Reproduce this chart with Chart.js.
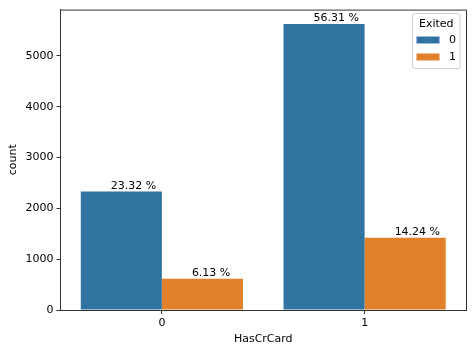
<!DOCTYPE html>
<html>
<head>
<meta charset="utf-8">
<script src="https://cdn.jsdelivr.net/npm/chart.js@4"></script>
<style>
  html, body { margin: 0; padding: 0; background: #fff; }
  #wrap { width: 474px; height: 353px; }
</style>
</head>
<body>
<div id="wrap"><canvas id="countChart" width="474" height="353"></canvas></div>
<script>
// HasCrCard categories, counts split by Exited
const categories = ['0', '1'];
const exited0 = [2332, 5631];
const exited1 = [613, 1424];
const yTicks = [0, 1000, 2000, 3000, 4000, 5000];

const total = exited0.concat(exited1).reduce((a, b) => a + b, 0);
const FONT = "'DejaVu Sans', sans-serif";
const FS = 11;

// percent labels above every bar (annotated a bit right of the bar's left edge, like the original)
const barLabels = {
    id: 'barLabels',
    afterDatasetsDraw(chart) {
        const ctx = chart.ctx;
        ctx.save();
        ctx.font = FS + 'px ' + FONT;
        ctx.fillStyle = '#000';
        ctx.textAlign = 'left';
        ctx.textBaseline = 'alphabetic';
        chart.data.datasets.forEach((ds, i) => {
            chart.getDatasetMeta(i).data.forEach((bar, j) => {
                const pct = (ds.data[j] / total * 100).toFixed(2) + ' %';
                ctx.fillText(pct, bar.x - bar.width / 2 + 30, bar.y - 3);
            });
        });
        ctx.restore();
    }
};

// top/right spines, axis titles and a matplotlib-like legend
const frameAndLegend = {
    id: 'frameAndLegend',
    afterDraw(chart) {
        const ctx = chart.ctx;
        const a = chart.chartArea;
        ctx.save();
        ctx.strokeStyle = '#333';
        ctx.lineWidth = 1;
        ctx.beginPath();
        ctx.moveTo(a.left, a.top + 0.5);
        ctx.lineTo(a.right + 0.5, a.top + 0.5);
        ctx.lineTo(a.right + 0.5, a.bottom);
        ctx.stroke();

        // axis titles
        ctx.fillStyle = '#000';
        ctx.font = FS + 'px ' + FONT;
        ctx.textAlign = 'center';
        ctx.textBaseline = 'middle';
        ctx.fillText('HasCrCard', (a.left + a.right) / 2, 339);
        ctx.save();
        ctx.translate(13, (a.top + a.bottom) / 2);
        ctx.rotate(-Math.PI / 2);
        ctx.fillText('count', 0, 0);
        ctx.restore();

        // legend box
        const bx = 412.5, by = 13.5, bw = 47.5, bh = 55;
        ctx.fillStyle = 'rgba(255,255,255,0.8)';
        ctx.strokeStyle = '#d0d0d0';
        ctx.beginPath();
        ctx.roundRect(bx, by, bw, bh, 2);
        ctx.fill();
        ctx.stroke();

        ctx.fillStyle = '#000';
        ctx.fillText('Exited', bx + bw / 2, 24);

        const rows = [40, 57];
        chart.data.datasets.forEach((ds, i) => {
            ctx.fillStyle = ds.backgroundColor;
            ctx.fillRect(416.5, rows[i] - 3.5, 23, 7);
            ctx.fillStyle = '#000';
            ctx.textAlign = 'left';
            ctx.fillText(ds.label, 449, rows[i] + 0.5);
        });
        ctx.restore();
    }
};

new Chart(document.getElementById('countChart'), {
    type: 'bar',
    data: {
        labels: categories,
        datasets: [
            { label: '0', data: exited0, backgroundColor: '#3274a1', borderWidth: 0 },
            { label: '1', data: exited1, backgroundColor: '#e1812c', borderWidth: 0 }
        ]
    },
    options: {
        responsive: false,
        animation: false,
        devicePixelRatio: 1,
        layout: { padding: { top: 7, right: 8, bottom: 0, left: 0 } },
        categoryPercentage: 0.8,
        barPercentage: 1.0,
        plugins: {
            legend: { display: false },
            tooltip: { enabled: false }
        },
        scales: {
            x: {
                grid: { drawOnChartArea: false, offset: false, tickLength: 4, color: '#333' },
                border: { color: '#333' },
                ticks: { color: '#000', font: { family: FONT, size: FS }, padding: 3 },
                afterFit(scale) { scale.height = 43; }
            },
            y: {
                min: 0,
                max: 5912,
                grid: { drawOnChartArea: false, tickLength: 4, color: '#333' },
                border: { color: '#333' },
                afterBuildTicks(scale) { scale.ticks = yTicks.map(v => ({ value: v })); },
                ticks: {
                    color: '#000',
                    font: { family: FONT, size: FS },
                    padding: 3,
                    callback: value => String(value)
                },
                afterFit(scale) { scale.width = 60.5; }
            }
        }
    },
    plugins: [barLabels, frameAndLegend]
});
</script>
</body>
</html>
